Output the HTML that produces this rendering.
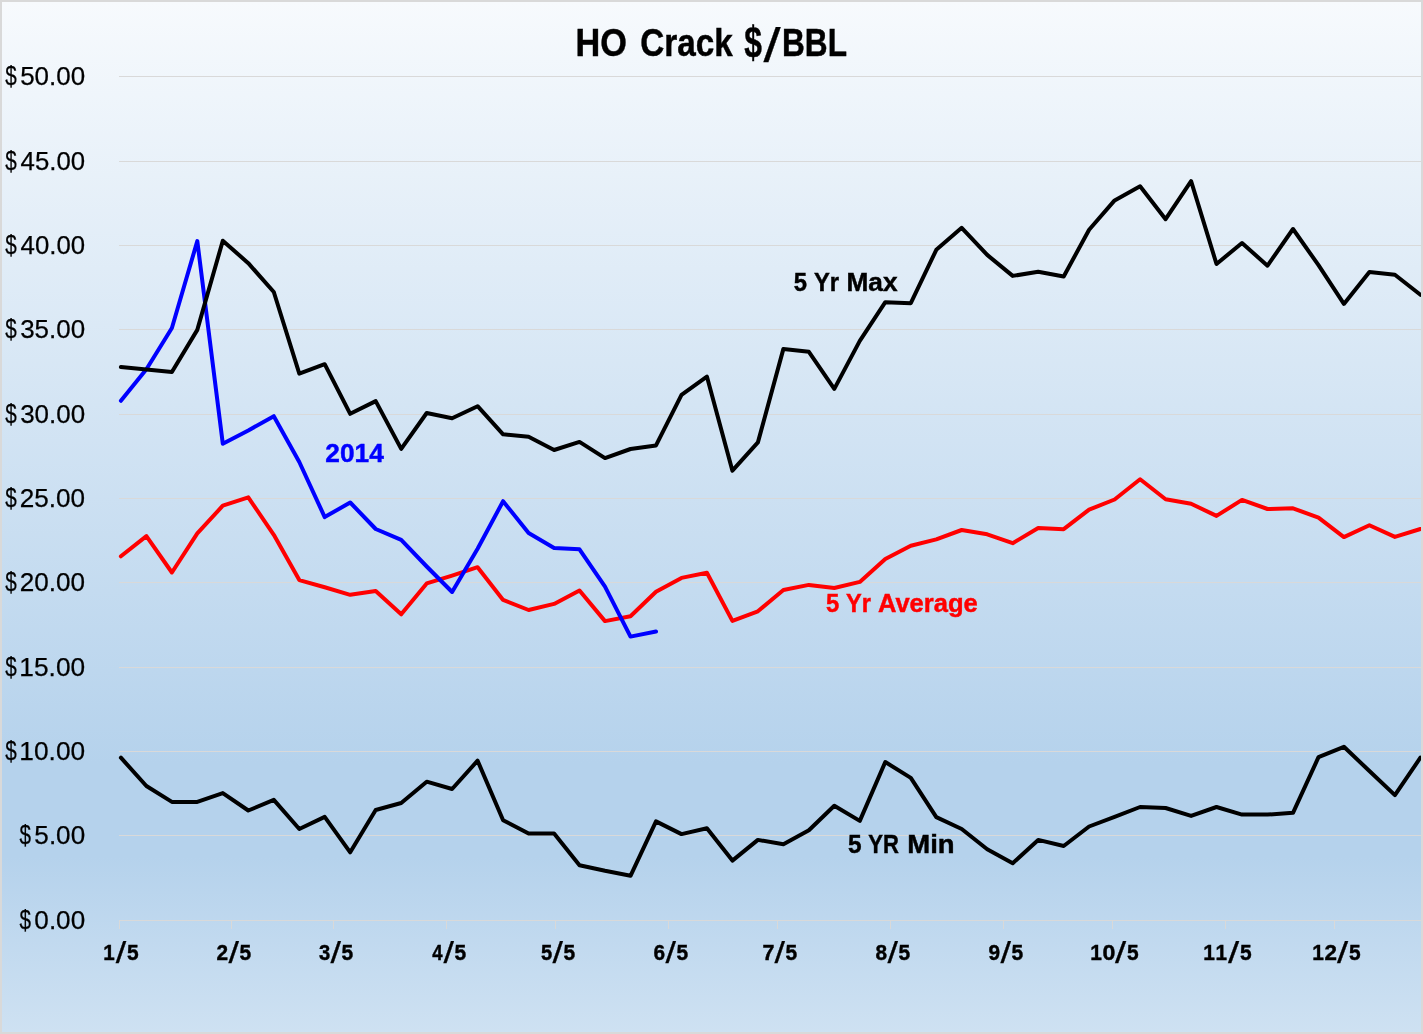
<!DOCTYPE html>
<html lang="en"><head><meta charset="utf-8"><title>HO Crack $/BBL</title>
<style>
html,body{margin:0;padding:0;background:#d9d9d9;}
body{width:1423px;height:1034px;overflow:hidden;}
svg{display:block;}
text{font-family:"Liberation Sans",sans-serif;fill:#000;stroke:#000;stroke-width:0.25px;}
tspan[font-weight]{stroke-width:0.45px;}
.b{font-weight:bold;}
</style></head><body>
<svg width="1423" height="1034" viewBox="0 0 1423 1034">
<defs><linearGradient id="bg" x1="0" y1="0" x2="0" y2="1">
<stop offset="0" stop-color="#f7fafd"/><stop offset="0.74" stop-color="#b5d2ec"/>
<stop offset="0.83" stop-color="#b5d2ec"/><stop offset="1" stop-color="#cee1f2"/>
</linearGradient></defs>
<rect x="0" y="0" width="1423" height="1034" fill="#d9d9d9"/>
<rect x="2" y="2" width="1419" height="1030" fill="url(#bg)"/>
<g stroke="#d9d9d9" stroke-width="1" fill="none" shape-rendering="crispEdges">
<line x1="119" y1="76.5" x2="1421" y2="76.5"/>
<line x1="119" y1="161.5" x2="1421" y2="161.5"/>
<line x1="119" y1="245.5" x2="1421" y2="245.5"/>
<line x1="119" y1="329.5" x2="1421" y2="329.5"/>
<line x1="119" y1="414.5" x2="1421" y2="414.5"/>
<line x1="119" y1="498.5" x2="1421" y2="498.5"/>
<line x1="119" y1="582.5" x2="1421" y2="582.5"/>
<line x1="119" y1="667.5" x2="1421" y2="667.5"/>
<line x1="119" y1="751.5" x2="1421" y2="751.5"/>
<line x1="119" y1="835.5" x2="1421" y2="835.5"/>
<line x1="119" y1="920.5" x2="1421" y2="920.5"/>
<line x1="119.5" y1="920" x2="119.5" y2="929"/>
<line x1="231.5" y1="920" x2="231.5" y2="929"/>
<line x1="333.5" y1="920" x2="333.5" y2="929"/>
<line x1="446.5" y1="920" x2="446.5" y2="929"/>
<line x1="555.5" y1="920" x2="555.5" y2="929"/>
<line x1="668.5" y1="920" x2="668.5" y2="929"/>
<line x1="777.5" y1="920" x2="777.5" y2="929"/>
<line x1="890.5" y1="920" x2="890.5" y2="929"/>
<line x1="1003.5" y1="920" x2="1003.5" y2="929"/>
<line x1="1112.5" y1="920" x2="1112.5" y2="929"/>
<line x1="1225.5" y1="920" x2="1225.5" y2="929"/>
<line x1="1334.5" y1="920" x2="1334.5" y2="929"/>
</g>
<clipPath id="cp"><rect x="2" y="2" width="1419" height="1030"/></clipPath>
<g fill="none" stroke-width="4" stroke-linejoin="round" stroke-linecap="round" clip-path="url(#cp)">
<polyline stroke="#ff0000" points="120.9,556.3 146.4,536.1 171.9,572.5 197.3,533.3 222.8,505.7 248.3,497.4 273.8,534.8 299.3,580.1 324.7,587.2 350.2,594.8 375.7,591.0 401.2,614.3 426.7,583.4 452.1,575.6 477.6,567.2 503.1,599.9 528.6,610.0 554.1,603.9 579.5,590.5 605.0,621.1 630.5,616.3 656.0,591.8 681.5,577.9 706.9,572.8 732.4,620.9 757.9,611.3 783.4,590.0 808.9,584.9 834.3,588.0 859.8,581.9 885.3,559.1 910.8,545.7 936.3,539.4 961.7,530.0 987.2,534.3 1012.7,543.2 1038.2,528.0 1063.7,529.2 1089.1,509.7 1114.6,499.5 1140.1,479.2 1165.6,499.2 1191.1,503.7 1216.5,515.9 1242.0,499.9 1267.5,509.0 1293.0,508.3 1318.5,517.6 1343.9,537.1 1369.4,525.2 1394.9,536.9 1420.4,529.0"/>
<polyline stroke="#0000ff" points="120.9,400.8 146.4,369.3 171.9,328.0 197.3,241.1 222.8,443.8 248.3,430.4 273.8,416.2 299.3,462.0 324.7,517.1 350.2,502.5 375.7,529.0 401.2,539.9 426.7,566.5 452.1,592.0 477.6,548.8 503.1,501.2 528.6,533.1 554.1,548.0 579.5,549.3 605.0,586.7 630.5,636.6 656.0,631.5"/>
<polyline stroke="#000000" points="120.9,757.7 146.4,786.0 171.9,801.9 197.3,801.9 222.8,793.1 248.3,810.5 273.8,799.9 299.3,829.0 324.7,816.9 350.2,852.3 375.7,810.0 401.2,803.0 426.7,781.7 452.1,789.0 477.6,760.7 503.1,820.2 528.6,833.6 554.1,833.6 579.5,865.2 605.0,870.8 630.5,875.8 656.0,821.4 681.5,834.1 706.9,828.3 732.4,860.6 757.9,839.9 783.4,844.2 808.9,830.3 834.3,805.7 859.8,820.9 885.3,762.0 910.8,777.9 936.3,817.1 961.7,829.0 987.2,849.3 1012.7,863.2 1038.2,839.9 1063.7,846.0 1089.1,826.5 1114.6,816.9 1140.1,807.0 1165.6,808.0 1191.1,815.9 1216.5,807.0 1242.0,814.6 1267.5,814.6 1293.0,812.8 1318.5,757.2 1343.9,746.8 1369.4,771.0 1394.9,795.1 1420.4,757.7"/>
<polyline stroke="#000000" points="120.9,367.0 146.4,369.6 171.9,372.0 197.3,329.9 222.8,240.7 248.3,263.2 273.8,292.0 299.3,373.6 324.7,364.2 350.2,413.8 375.7,401.1 401.2,448.9 426.7,413.0 452.1,418.2 477.6,406.2 503.1,434.3 528.6,436.8 554.1,450.0 579.5,441.9 605.0,458.1 630.5,449.0 656.0,445.4 681.5,394.8 706.9,376.6 732.4,470.7 757.9,442.4 783.4,348.9 808.9,351.8 834.3,388.9 859.8,340.9 885.3,302.2 910.8,303.2 936.3,249.8 961.7,227.8 987.2,254.9 1012.7,275.9 1038.2,271.8 1063.7,276.5 1089.1,229.7 1114.6,200.4 1140.1,186.3 1165.6,219.2 1191.1,181.2 1216.5,264.0 1242.0,243.0 1267.5,265.7 1293.0,229.0 1318.5,265.2 1343.9,303.9 1369.4,272.1 1394.9,274.8 1420.4,294.8"/>
</g>
<text><tspan x="575.56" y="56.40" font-size="37.94" textLength="51.40" lengthAdjust="spacingAndGlyphs" font-weight="bold">HO</tspan> <tspan x="640.26" y="56.40" font-size="37.94" textLength="92.53" lengthAdjust="spacingAndGlyphs" font-weight="bold">Crack</tspan> <tspan x="744.20" y="58.08" font-size="43.83" textLength="17.70" lengthAdjust="spacingAndGlyphs" font-weight="bold">$</tspan><tspan x="763.60" y="62.14" font-size="48.93" textLength="17.09" lengthAdjust="spacingAndGlyphs">/</tspan><tspan x="782.02" y="56.40" font-size="37.94" textLength="65.02" lengthAdjust="spacingAndGlyphs" font-weight="bold">BBL</tspan></text>
<text><tspan x="5.20" y="85.37" font-size="28.50" textLength="11.49" lengthAdjust="spacingAndGlyphs">$</tspan><tspan x="20.19" y="84.80" font-size="25.94" textLength="64.96" lengthAdjust="spacingAndGlyphs">50.00</tspan></text>
<text><tspan x="5.20" y="170.37" font-size="28.50" textLength="11.49" lengthAdjust="spacingAndGlyphs">$</tspan><tspan x="20.60" y="169.80" font-size="25.94" textLength="64.55" lengthAdjust="spacingAndGlyphs">45.00</tspan></text>
<text><tspan x="5.20" y="254.37" font-size="28.50" textLength="11.49" lengthAdjust="spacingAndGlyphs">$</tspan><tspan x="20.60" y="253.80" font-size="25.94" textLength="64.55" lengthAdjust="spacingAndGlyphs">40.00</tspan></text>
<text><tspan x="5.20" y="338.37" font-size="28.50" textLength="11.49" lengthAdjust="spacingAndGlyphs">$</tspan><tspan x="20.19" y="337.80" font-size="25.94" textLength="64.96" lengthAdjust="spacingAndGlyphs">35.00</tspan></text>
<text><tspan x="5.20" y="423.37" font-size="28.50" textLength="11.49" lengthAdjust="spacingAndGlyphs">$</tspan><tspan x="20.19" y="422.80" font-size="25.94" textLength="64.96" lengthAdjust="spacingAndGlyphs">30.00</tspan></text>
<text><tspan x="5.20" y="507.37" font-size="28.50" textLength="11.49" lengthAdjust="spacingAndGlyphs">$</tspan><tspan x="19.78" y="506.80" font-size="25.94" textLength="65.38" lengthAdjust="spacingAndGlyphs">25.00</tspan></text>
<text><tspan x="5.20" y="591.37" font-size="28.50" textLength="11.49" lengthAdjust="spacingAndGlyphs">$</tspan><tspan x="19.78" y="590.80" font-size="25.94" textLength="65.38" lengthAdjust="spacingAndGlyphs">20.00</tspan></text>
<text><tspan x="5.20" y="676.37" font-size="28.50" textLength="11.49" lengthAdjust="spacingAndGlyphs">$</tspan><tspan x="19.36" y="675.80" font-size="25.94" textLength="65.80" lengthAdjust="spacingAndGlyphs">15.00</tspan></text>
<text><tspan x="5.20" y="760.37" font-size="28.50" textLength="11.49" lengthAdjust="spacingAndGlyphs">$</tspan><tspan x="19.36" y="759.80" font-size="25.94" textLength="65.80" lengthAdjust="spacingAndGlyphs">10.00</tspan></text>
<text><tspan x="19.50" y="844.37" font-size="28.50" textLength="11.49" lengthAdjust="spacingAndGlyphs">$</tspan><tspan x="34.38" y="843.80" font-size="25.94" textLength="50.76" lengthAdjust="spacingAndGlyphs">5.00</tspan></text>
<text><tspan x="19.50" y="929.37" font-size="28.50" textLength="11.49" lengthAdjust="spacingAndGlyphs">$</tspan><tspan x="34.38" y="928.80" font-size="25.94" textLength="50.76" lengthAdjust="spacingAndGlyphs">0.00</tspan></text>
<text><tspan x="103.26" y="960.00" font-size="22.90" textLength="11.45" lengthAdjust="spacingAndGlyphs" font-weight="bold">1</tspan><tspan x="115.85" y="963.45" font-size="28.93" textLength="10.47" lengthAdjust="spacingAndGlyphs">/</tspan><tspan x="126.92" y="960.00" font-size="22.90" textLength="11.65" lengthAdjust="spacingAndGlyphs" font-weight="bold">5</tspan></text>
<text><tspan x="216.55" y="960.00" font-size="22.90" textLength="11.57" lengthAdjust="spacingAndGlyphs" font-weight="bold">2</tspan><tspan x="228.50" y="963.45" font-size="28.93" textLength="10.47" lengthAdjust="spacingAndGlyphs">/</tspan><tspan x="239.57" y="960.00" font-size="22.90" textLength="11.65" lengthAdjust="spacingAndGlyphs" font-weight="bold">5</tspan></text>
<text><tspan x="318.88" y="960.00" font-size="22.90" textLength="11.22" lengthAdjust="spacingAndGlyphs" font-weight="bold">3</tspan><tspan x="330.50" y="963.45" font-size="28.93" textLength="10.47" lengthAdjust="spacingAndGlyphs">/</tspan><tspan x="341.57" y="960.00" font-size="22.90" textLength="11.65" lengthAdjust="spacingAndGlyphs" font-weight="bold">5</tspan></text>
<text><tspan x="432.20" y="960.00" font-size="22.90" textLength="10.28" lengthAdjust="spacingAndGlyphs" font-weight="bold">4</tspan><tspan x="443.50" y="963.45" font-size="28.93" textLength="10.47" lengthAdjust="spacingAndGlyphs">/</tspan><tspan x="454.57" y="960.00" font-size="22.90" textLength="11.65" lengthAdjust="spacingAndGlyphs" font-weight="bold">5</tspan></text>
<text><tspan x="540.88" y="960.00" font-size="22.90" textLength="11.22" lengthAdjust="spacingAndGlyphs" font-weight="bold">5</tspan><tspan x="552.50" y="963.45" font-size="28.93" textLength="10.47" lengthAdjust="spacingAndGlyphs">/</tspan><tspan x="563.57" y="960.00" font-size="22.90" textLength="11.65" lengthAdjust="spacingAndGlyphs" font-weight="bold">5</tspan></text>
<text><tspan x="653.55" y="960.00" font-size="22.90" textLength="11.57" lengthAdjust="spacingAndGlyphs" font-weight="bold">6</tspan><tspan x="665.50" y="963.45" font-size="28.93" textLength="10.47" lengthAdjust="spacingAndGlyphs">/</tspan><tspan x="676.57" y="960.00" font-size="22.90" textLength="11.65" lengthAdjust="spacingAndGlyphs" font-weight="bold">5</tspan></text>
<text><tspan x="762.53" y="960.00" font-size="22.90" textLength="11.94" lengthAdjust="spacingAndGlyphs" font-weight="bold">7</tspan><tspan x="774.50" y="963.45" font-size="28.93" textLength="10.47" lengthAdjust="spacingAndGlyphs">/</tspan><tspan x="785.57" y="960.00" font-size="22.90" textLength="11.65" lengthAdjust="spacingAndGlyphs" font-weight="bold">5</tspan></text>
<text><tspan x="875.55" y="960.00" font-size="22.90" textLength="11.57" lengthAdjust="spacingAndGlyphs" font-weight="bold">8</tspan><tspan x="887.50" y="963.45" font-size="28.93" textLength="10.47" lengthAdjust="spacingAndGlyphs">/</tspan><tspan x="898.57" y="960.00" font-size="22.90" textLength="11.65" lengthAdjust="spacingAndGlyphs" font-weight="bold">5</tspan></text>
<text><tspan x="988.55" y="960.00" font-size="22.90" textLength="11.57" lengthAdjust="spacingAndGlyphs" font-weight="bold">9</tspan><tspan x="1000.50" y="963.45" font-size="28.93" textLength="10.47" lengthAdjust="spacingAndGlyphs">/</tspan><tspan x="1011.57" y="960.00" font-size="22.90" textLength="11.65" lengthAdjust="spacingAndGlyphs" font-weight="bold">5</tspan></text>
<text><tspan x="1090.29" y="960.00" font-size="22.90" textLength="11.63" lengthAdjust="spacingAndGlyphs" font-weight="bold">1</tspan><tspan x="1102.58" y="960.00" font-size="22.90" textLength="12.86" lengthAdjust="spacingAndGlyphs" font-weight="bold">0</tspan><tspan x="1114.90" y="963.45" font-size="28.93" textLength="11.16" lengthAdjust="spacingAndGlyphs">/</tspan><tspan x="1127.07" y="960.00" font-size="22.90" textLength="11.65" lengthAdjust="spacingAndGlyphs" font-weight="bold">5</tspan></text>
<text><tspan x="1203.29" y="960.00" font-size="22.90" textLength="11.63" lengthAdjust="spacingAndGlyphs" font-weight="bold">1</tspan><tspan x="1215.61" y="960.00" font-size="22.90" textLength="11.51" lengthAdjust="spacingAndGlyphs" font-weight="bold">1</tspan><tspan x="1227.90" y="963.45" font-size="28.93" textLength="11.16" lengthAdjust="spacingAndGlyphs">/</tspan><tspan x="1240.07" y="960.00" font-size="22.90" textLength="11.65" lengthAdjust="spacingAndGlyphs" font-weight="bold">5</tspan></text>
<text><tspan x="1312.29" y="960.00" font-size="22.90" textLength="11.63" lengthAdjust="spacingAndGlyphs" font-weight="bold">1</tspan><tspan x="1324.60" y="960.00" font-size="22.90" textLength="12.46" lengthAdjust="spacingAndGlyphs" font-weight="bold">2</tspan><tspan x="1336.90" y="963.45" font-size="28.93" textLength="11.16" lengthAdjust="spacingAndGlyphs">/</tspan><tspan x="1349.07" y="960.00" font-size="22.90" textLength="11.65" lengthAdjust="spacingAndGlyphs" font-weight="bold">5</tspan></text>
<text><tspan x="793.83" y="290.90" font-size="25.73" textLength="13.27" lengthAdjust="spacingAndGlyphs" font-weight="bold">5</tspan> <tspan x="814.03" y="290.90" font-size="25.73" textLength="25.11" lengthAdjust="spacingAndGlyphs" font-weight="bold">Yr</tspan> <tspan x="846.46" y="290.90" font-size="25.73" textLength="51.07" lengthAdjust="spacingAndGlyphs" font-weight="bold">Max</tspan></text>
<text style="fill:#0000ff;stroke:#0000ff"><tspan x="325.38" y="461.80" font-size="25.94" textLength="58.45" lengthAdjust="spacingAndGlyphs" font-weight="bold">2014</tspan></text>
<text style="fill:#ff0000;stroke:#ff0000"><tspan x="825.93" y="611.70" font-size="25.58" textLength="13.27" lengthAdjust="spacingAndGlyphs" font-weight="bold">5</tspan> <tspan x="846.03" y="611.70" font-size="25.58" textLength="24.90" lengthAdjust="spacingAndGlyphs" font-weight="bold">Yr</tspan> <tspan x="877.90" y="611.70" font-size="25.58" textLength="99.83" lengthAdjust="spacingAndGlyphs" font-weight="bold">Average</tspan></text>
<text><tspan x="847.92" y="852.90" font-size="25.87" textLength="13.59" lengthAdjust="spacingAndGlyphs" font-weight="bold">5</tspan> <tspan x="868.16" y="852.90" font-size="25.87" textLength="30.67" lengthAdjust="spacingAndGlyphs" font-weight="bold">YR</tspan> <tspan x="907.28" y="852.90" font-size="25.87" textLength="47.35" lengthAdjust="spacingAndGlyphs" font-weight="bold">Min</tspan></text>
</svg></body></html>
